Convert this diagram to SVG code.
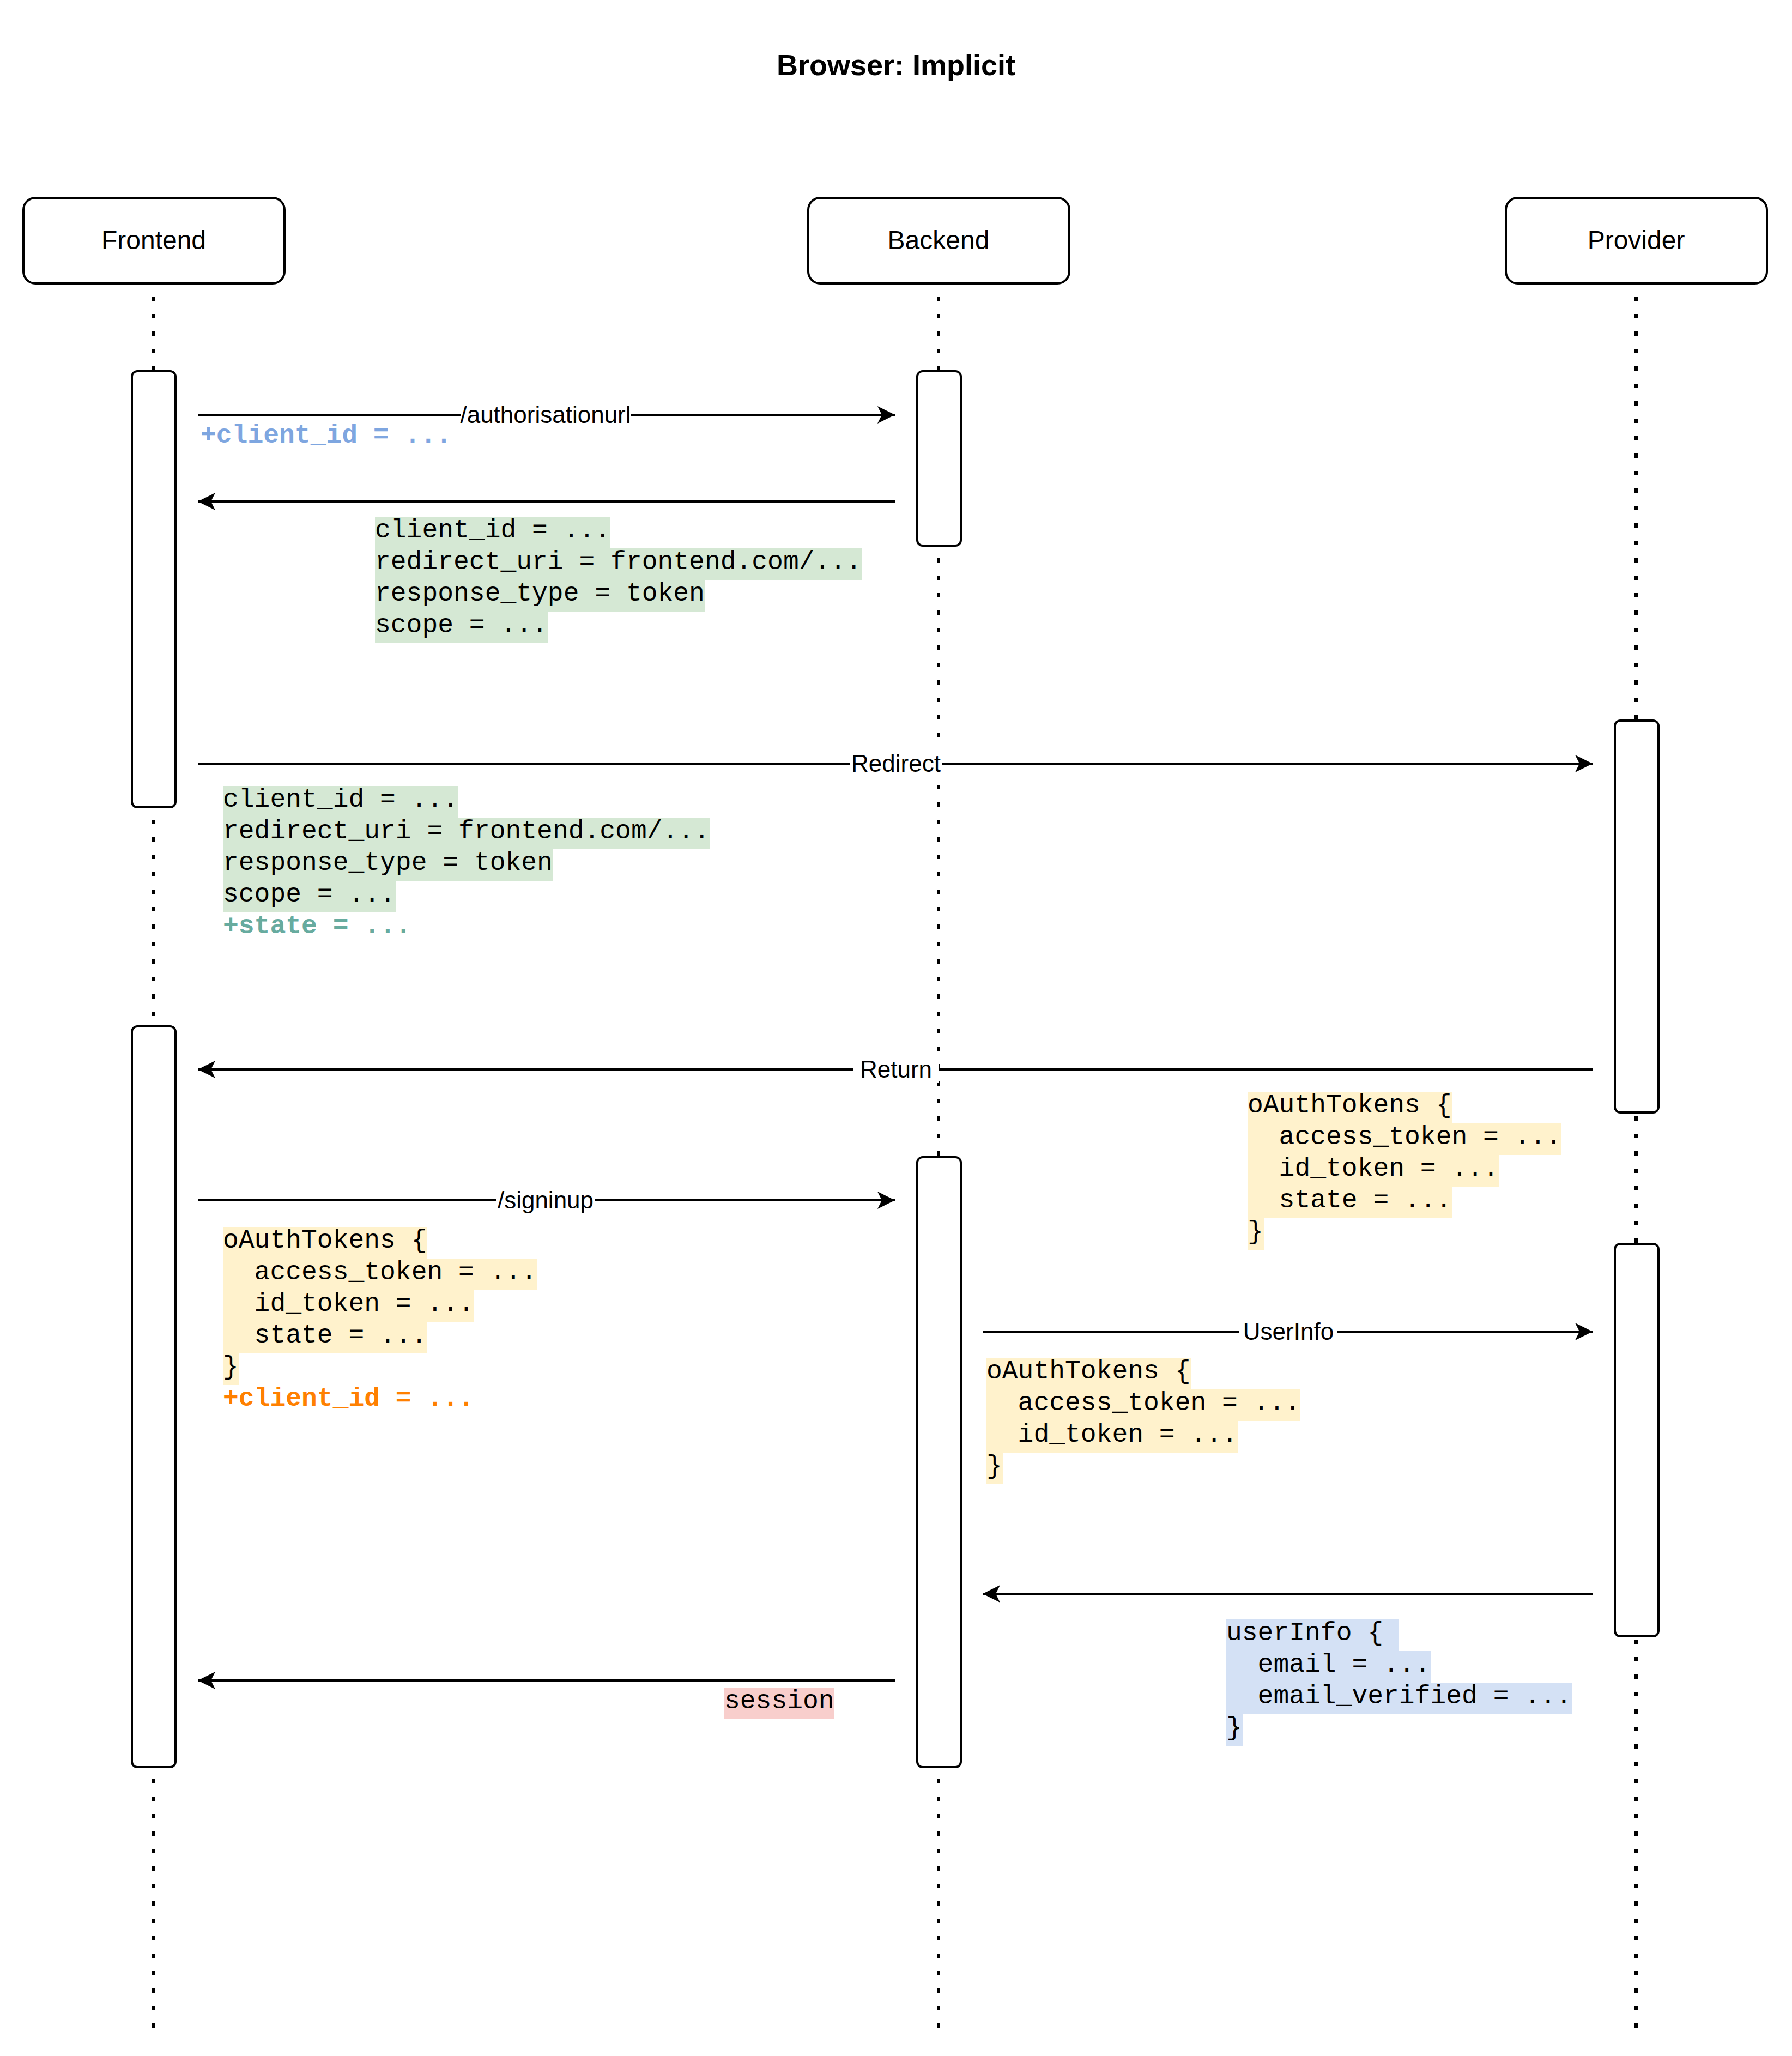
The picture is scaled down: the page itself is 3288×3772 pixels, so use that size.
<svg xmlns="http://www.w3.org/2000/svg" width="3288" height="3772" viewBox="0 0 3288 3772">
<style>
.node{fill:#fff;stroke:#000;stroke-width:4}
.act{fill:#fff;stroke:#000;stroke-width:4}
.life{stroke:#000;stroke-width:6;stroke-dasharray:8 24;fill:none}
.nl{font-family:"Liberation Sans",Arial,sans-serif;font-size:48px;text-anchor:middle}
.al{font-family:"Liberation Sans",Arial,sans-serif;font-size:44px;text-anchor:middle}
.msg{stroke:#000;stroke-width:4;fill:none;marker-end:url(#arr)}
.m{font-family:"Liberation Mono","Courier New",monospace;font-size:48px;white-space:pre}
.b{font-weight:bold}
</style>
<defs>
<marker id="arr" markerUnits="userSpaceOnUse" markerWidth="40" markerHeight="40" refX="32" refY="16" orient="auto" viewBox="0 0 40 40">
<path d="M0,0 L32,16 L0,32 L8,16 z" fill="#000"/>
</marker>
</defs>
<rect width="3288" height="3772" fill="#fff"/>
<text x="1644" y="138" font-family="Liberation Sans,Arial,sans-serif" font-size="54" font-weight="bold" text-anchor="middle">Browser: Implicit</text>
<g id="lifelines">
<line class="life" x1="282" y1="544" x2="282" y2="3724"/>
<line class="life" x1="1722" y1="544" x2="1722" y2="3724"/>
<line class="life" x1="3002" y1="544" x2="3002" y2="3724"/>
</g>
<g id="frontend"><rect class="node" x="43" y="363" width="479" height="157" rx="22"/><text class="nl" x="282" y="457">Frontend</text></g>
<g id="backend"><rect class="node" x="1483" y="363" width="479" height="157" rx="22"/><text class="nl" x="1722" y="457">Backend</text></g>
<g id="provider"><rect class="node" x="2763" y="363" width="479" height="157" rx="22"/><text class="nl" x="3002" y="457">Provider</text></g>
<g id="activations">
<rect class="act" x="242" y="681" width="80" height="800" rx="10"/>
<rect class="act" x="242" y="1883" width="80" height="1359" rx="10"/>
<rect class="act" x="1683" y="681" width="80" height="320" rx="10"/>
<rect class="act" x="1683" y="2123" width="80" height="1119" rx="10"/>
<rect class="act" x="2963" y="1322" width="80" height="719" rx="10"/>
<rect class="act" x="2963" y="2282" width="80" height="720" rx="10"/>
</g>
<g id="connectors">
<line class="msg" x1="363" y1="761" x2="1642" y2="761"/>
<rect x="846" y="736" width="312" height="50" fill="#fff"/>
<text class="al" x="1001" y="776">/authorisationurl</text>
<line class="msg" x1="1642" y1="920" x2="363" y2="920"/>
<line class="msg" x1="363" y1="1401" x2="2922" y2="1401"/>
<rect x="1560" y="1376" width="168" height="50" fill="#fff"/>
<text class="al" x="1644" y="1416">Redirect</text>
<line class="msg" x1="2922" y1="1962" x2="363" y2="1962"/>
<rect x="1566" y="1937" width="156" height="50" fill="#fff"/>
<text class="al" x="1644" y="1977">Return</text>
<line class="msg" x1="363" y1="2202" x2="1642" y2="2202"/>
<rect x="910" y="2177" width="182" height="50" fill="#fff"/>
<text class="al" x="1001" y="2217">/signinup</text>
<line class="msg" x1="1803" y1="2443" x2="2922" y2="2443"/>
<rect x="2274" y="2418" width="180" height="50" fill="#fff"/>
<text class="al" x="2364" y="2458">UserInfo</text>
<line class="msg" x1="2922" y1="2924" x2="1803" y2="2924"/>
<line class="msg" x1="1642" y1="3083" x2="363" y2="3083"/>
</g>
<g id="texts">
<text class="m b" x="368" y="812" fill="#7EA6E0">+client_id = ...</text>
<g fill="#D5E8D4">
<rect x="688" y="948" width="432" height="58"/><rect x="688" y="1006" width="893" height="58"/><rect x="688" y="1064" width="605" height="58"/><rect x="688" y="1122" width="317" height="58"/>
<rect x="409" y="1442" width="432" height="58"/><rect x="409" y="1500" width="893" height="58"/><rect x="409" y="1558" width="605" height="58"/><rect x="409" y="1616" width="317" height="58"/>
</g>
<text class="m" x="688" y="986">client_id = ...</text>
<text class="m" x="688" y="1044">redirect_uri = frontend.com/...</text>
<text class="m" x="688" y="1102">response_type = token</text>
<text class="m" x="688" y="1160">scope = ...</text>
<text class="m" x="409" y="1480">client_id = ...</text>
<text class="m" x="409" y="1538">redirect_uri = frontend.com/...</text>
<text class="m" x="409" y="1596">response_type = token</text>
<text class="m" x="409" y="1654">scope = ...</text>
<text class="m b" x="409" y="1712" fill="#67AB9F">+state = ...</text>
<g fill="#FFF2CC">
<rect x="2289" y="2003" width="375" height="58"/><rect x="2289" y="2061" width="576" height="58"/><rect x="2289" y="2119" width="461" height="58"/><rect x="2289" y="2177" width="375" height="58"/><rect x="2289" y="2235" width="30" height="58"/>
<rect x="409" y="2251" width="375" height="58"/><rect x="409" y="2309" width="576" height="58"/><rect x="409" y="2367" width="461" height="58"/><rect x="409" y="2425" width="375" height="58"/><rect x="409" y="2483" width="30" height="58"/>
<rect x="1810" y="2491" width="375" height="58"/><rect x="1810" y="2549" width="576" height="58"/><rect x="1810" y="2607" width="461" height="58"/><rect x="1810" y="2665" width="30" height="58"/>
</g>
<text class="m" x="2289" y="2041">oAuthTokens {</text>
<text class="m" x="2289" y="2099">  access_token = ...</text>
<text class="m" x="2289" y="2157">  id_token = ...</text>
<text class="m" x="2289" y="2215">  state = ...</text>
<text class="m" x="2289" y="2273">}</text>
<text class="m" x="409" y="2289">oAuthTokens {</text>
<text class="m" x="409" y="2347">  access_token = ...</text>
<text class="m" x="409" y="2405">  id_token = ...</text>
<text class="m" x="409" y="2463">  state = ...</text>
<text class="m" x="409" y="2521">}</text>
<text class="m b" x="409" y="2579" fill="#FF8000">+client_id = ...</text>
<text class="m" x="1810" y="2529">oAuthTokens {</text>
<text class="m" x="1810" y="2587">  access_token = ...</text>
<text class="m" x="1810" y="2645">  id_token = ...</text>
<text class="m" x="1810" y="2703">}</text>
<g fill="#D4E1F5">
<rect x="2250" y="2971" width="317" height="58"/><rect x="2250" y="3029" width="375" height="58"/><rect x="2250" y="3087" width="634" height="58"/><rect x="2250" y="3145" width="30" height="58"/>
</g>
<text class="m" x="2250" y="3009">userInfo {</text>
<text class="m" x="2250" y="3067">  email = ...</text>
<text class="m" x="2250" y="3125">  email_verified = ...</text>
<text class="m" x="2250" y="3183">}</text>
<rect x="1329" y="3096" width="202" height="58" fill="#F8CECC"/>
<text class="m" x="1329" y="3134">session</text>
</g>
</svg>
